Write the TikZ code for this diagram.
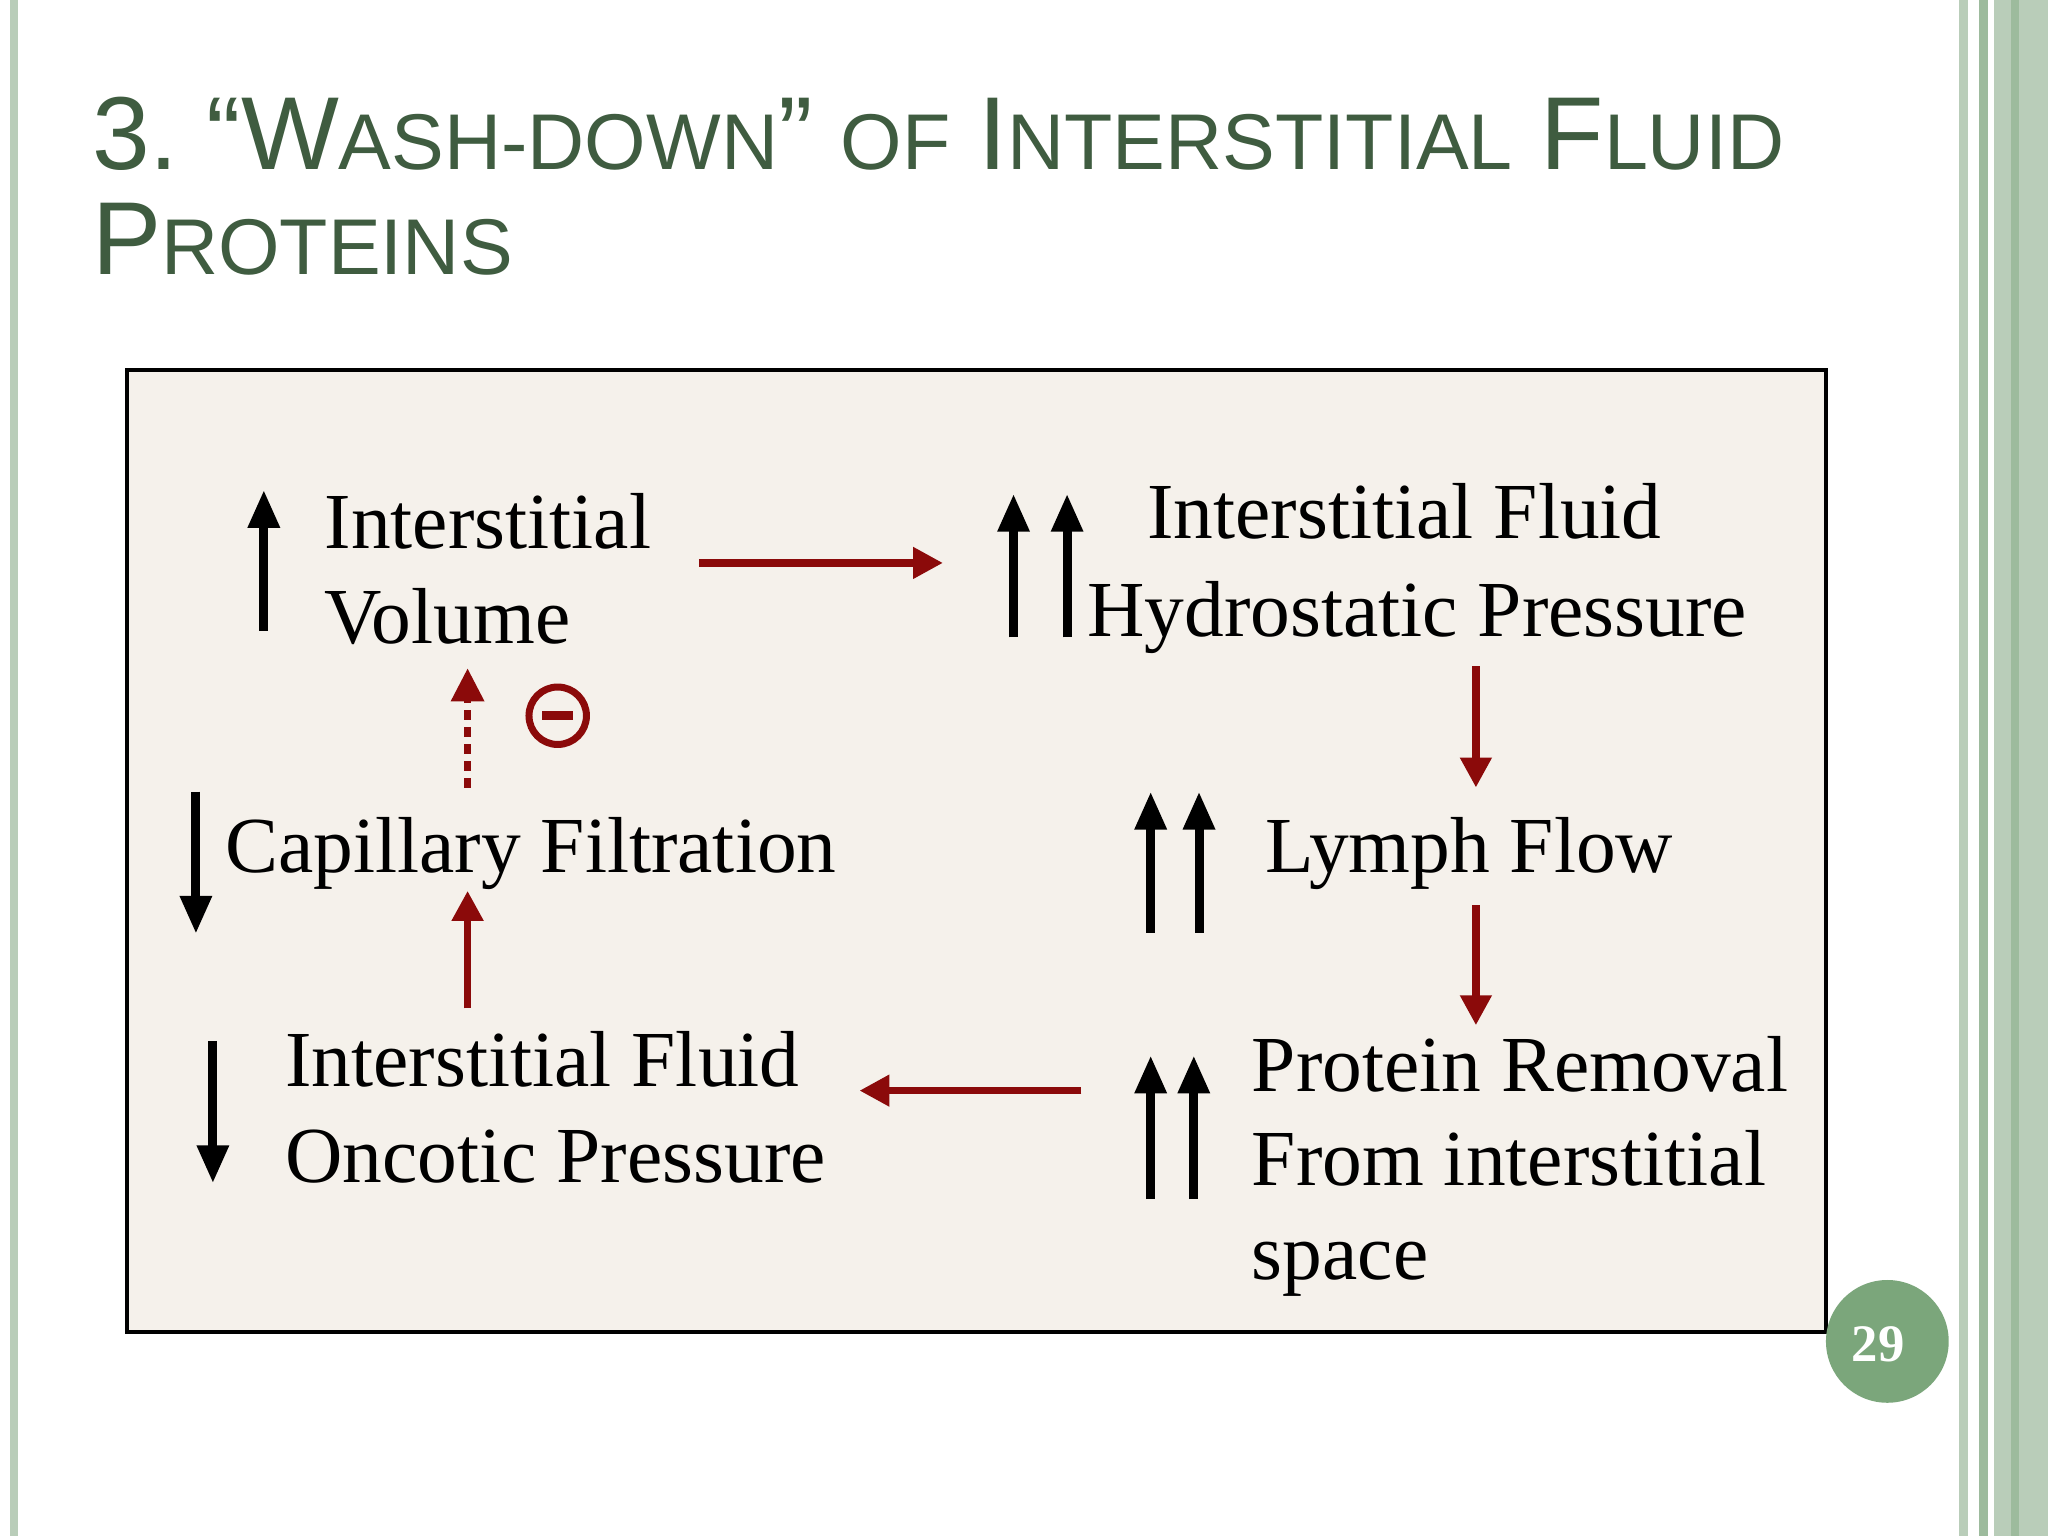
\documentclass[tikz,border=0pt]{standalone}
\usepackage{fontspec}
\setmainfont{Liberation Serif}
\newfontfamily\titlefont{Liberation Sans}
\usetikzlibrary{arrows.meta}
\definecolor{tgreen}{HTML}{3F5C40}
\definecolor{boxbg}{HTML}{F5F1EB}
\definecolor{dred}{HTML}{8B0A0A}
\definecolor{stripe}{HTML}{B9CDB9}
\definecolor{stripe2}{HTML}{9DBB9D}
\definecolor{pgc}{HTML}{7BA67B}
\tikzset{
  lbl/.style={anchor=base west,inner sep=0pt,font=\fontsize{22.6}{28}\selectfont},
  blk/.style={line width=0.09cm,-{Triangle[length=0.38cm,width=0.3cm]}},
  redarr/.style={dred,line width=0.075cm,-{Triangle[length=0.3cm,width=0.3cm]}},
}
\newcommand{\bigc}[1]{{\fontsize{29.5}{34}\selectfont #1}}
\newcommand{\smc}[1]{{\fontsize{22.5}{34}\selectfont #1}}
\newcommand{\tsp}{\hspace{0.28cm}}
\begin{document}
\begin{tikzpicture}[x=0.01306cm,y=-0.01306cm]
\useasboundingbox (0,0) rectangle (1568,1176);
\fill[white] (0,0) rectangle (1568,1176);
\fill[stripe] (8,0) rectangle (14,1176);
\fill[stripe] (1500,0) rectangle (1507,1176);
\fill[stripe2] (1515,0) rectangle (1522,1176);
\fill[stripe] (1527,0) rectangle (1568,1176);
\fill[stripe2] (1540,0) rectangle (1546,1176);
% title
\node[anchor=base west,inner sep=0pt,text=tgreen,font=\titlefont] (t1) at (70,130)
  {\bigc{3.}\tsp\bigc{“W}\smc{ASH-DOWN}\bigc{”}\tsp\smc{OF}\tsp\bigc{I}\smc{NTERSTITIAL}\tsp\bigc{F}\smc{LUID}};
\node[anchor=base west,inner sep=0pt,text=tgreen,font=\titlefont] (t2) at (70,210)
  {\bigc{P}\smc{ROTEINS}};
% box
\draw[line width=0.04cm,fill=boxbg] (97,283) rectangle (1398,1020);
% labels
\node[lbl] (a1) at (248,420) {Interstitial};
\node[lbl] (a2) at (248,493) {Volume};
\node[lbl] (b1) at (878,412) {Interstitial Fluid};
\node[lbl] (b2) at (832,487) {Hydrostatic Pressure};
\node[lbl] (c1) at (172,668) {Capillary Filtration};
\node[lbl] (d1) at (968,668) {Lymph Flow};
\node[lbl] (e1) at (218,832) {Interstitial Fluid};
\node[lbl] (e2) at (218,905) {Oncotic Pressure};
\node[lbl] (f1) at (958,836) {Protein Removal};
\node[lbl] (f2) at (958,908) {From interstitial};
\node[lbl] (f3) at (958,980) {space};
% black arrows
\draw[blk] (202,483) -- (202,375);
\draw[blk] (776,488) -- (776,378);
\draw[blk] (817,488) -- (817,378);
\draw[blk] (150,606) -- (150,715);
\draw[blk] (881,714) -- (881,606);
\draw[blk] (918,714) -- (918,606);
\draw[blk] (163,797) -- (163,906);
\draw[blk] (881,918) -- (881,808);
\draw[blk] (914,918) -- (914,808);
% red arrows
\draw[redarr] (535,431) -- (722,431);
\draw[redarr] (1130,510) -- (1130,603);
\draw[redarr] (1130,693) -- (1130,785);
\draw[redarr] (828,835) -- (658,835);
\draw[redarr] (358,772) -- (358,682);
\draw[dred,line width=0.075cm,dash pattern=on 0.1cm off 0.07cm] (358,603) -- (358,535);
\fill[dred] (358,512) -- (371,537) -- (345,537) -- cycle;
\draw[dred,line width=0.07cm] (427,548) circle (22);
\draw[dred,line width=0.09cm] (415,548) -- (439,548);
% page number
\fill[pgc] (1445,1027) circle (47);
\node[text=white,font=\bfseries\fontsize{15}{18}\selectfont] (pn) at (1438,1029) {29};
\end{tikzpicture}
\end{document}
